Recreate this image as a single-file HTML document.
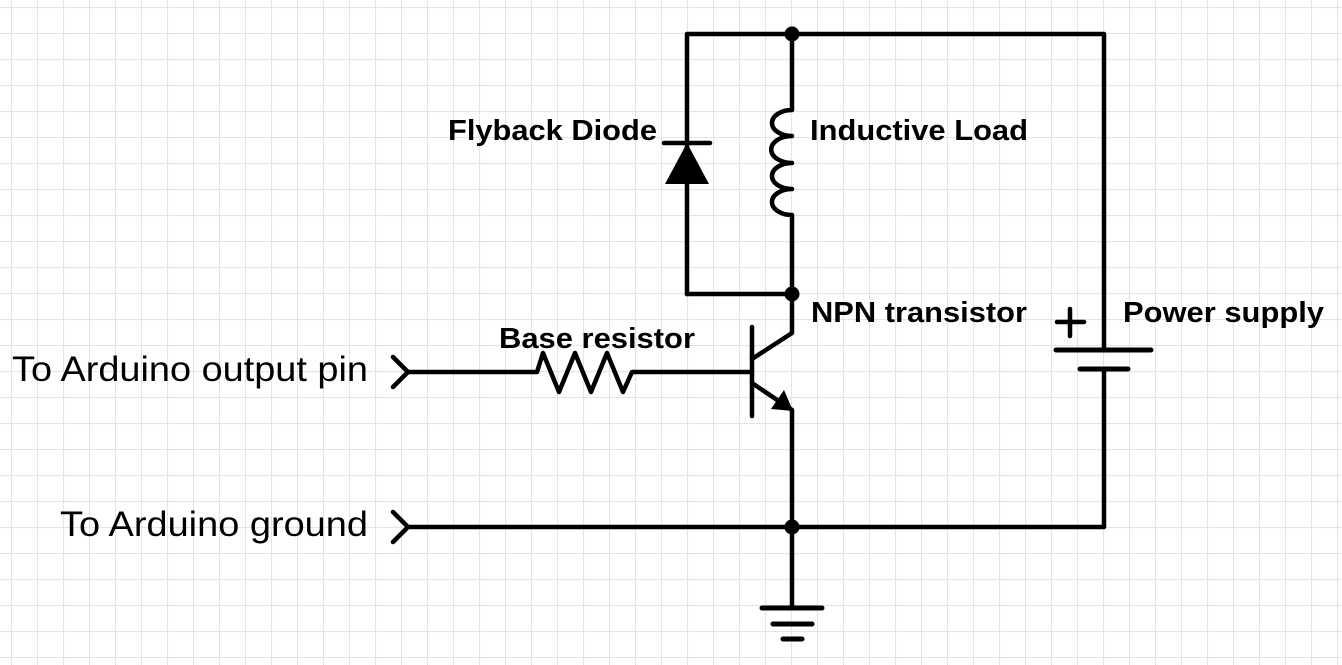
<!DOCTYPE html>
<html><head><meta charset="utf-8"><style>
html,body{margin:0;padding:0;background:#fff}
svg{display:block}
text{font-family:"Liberation Sans",sans-serif;fill:#000}
.b{font-weight:bold;font-size:29px}
.r{font-size:35px}
</style></head><body>
<svg width="1342" height="665" viewBox="0 0 1342 665" xmlns="http://www.w3.org/2000/svg">
<defs>
<pattern id="g" x="11" y="7" width="26" height="26" patternUnits="userSpaceOnUse">
<path d="M0 0.5H26M0.5 0V26" stroke="#e4e4e4" stroke-width="1.2" fill="none"/>
</pattern>
</defs>
<rect width="1342" height="665" fill="url(#g)"/>
<g stroke="#000" stroke-width="4.5" fill="none" stroke-linecap="round" stroke-linejoin="round">
<path d="M687 294V34H1104V350"/>
<path d="M664 143H710"/>
<path d="M792 34V110 A20 13 0 0 0 792 136 A20 13 0 0 0 792 163 A20 13 0 0 0 792 189 A20 13 0 0 0 792 215 V333 L752 359"/>
<path d="M687 294H792"/>
<path d="M752 327V416"/>
<path d="M752 383L792 410V608"/>
<path d="M408 372H537L543 353L559 392L575 353L591 392L607 353L623 392L632 372H752"/>
<path d="M393 357L408 372L393 387"/>
<path d="M393 512L408 527L393 542"/>
<path d="M408 527H1104V369"/>
<path d="M1056 350H1151" stroke-width="5"/>
<path d="M1080 369H1128" stroke-width="5"/>
<path d="M1057 322H1084M1070 309V336"/>
<path d="M762 608H822" stroke-width="5"/>
<path d="M773 624H812" stroke-width="5"/>
<path d="M783 639H802" stroke-width="5"/>
</g>
<polygon points="687,143 665,184 709,184" fill="#000"/>
<polygon points="793,411 771,409 784,390" fill="#000"/>
<circle cx="792" cy="34" r="7.5" fill="#000"/>
<circle cx="792" cy="294" r="7.5" fill="#000"/>
<circle cx="792" cy="527" r="7.5" fill="#000"/>
<text class="b" x="448" y="140" textLength="209" lengthAdjust="spacingAndGlyphs">Flyback Diode</text>
<text class="b" x="810" y="140" textLength="218" lengthAdjust="spacingAndGlyphs">Inductive Load</text>
<text class="b" x="811" y="322" textLength="216" lengthAdjust="spacingAndGlyphs">NPN transistor</text>
<text class="b" x="499" y="348" textLength="196" lengthAdjust="spacingAndGlyphs">Base resistor</text>
<text class="b" x="1123" y="322" textLength="201" lengthAdjust="spacingAndGlyphs">Power supply</text>
<text class="r" x="12" y="381" textLength="356" lengthAdjust="spacingAndGlyphs">To Arduino output pin</text>
<text class="r" x="60" y="536" textLength="308" lengthAdjust="spacingAndGlyphs">To Arduino ground</text>
</svg>
</body></html>
